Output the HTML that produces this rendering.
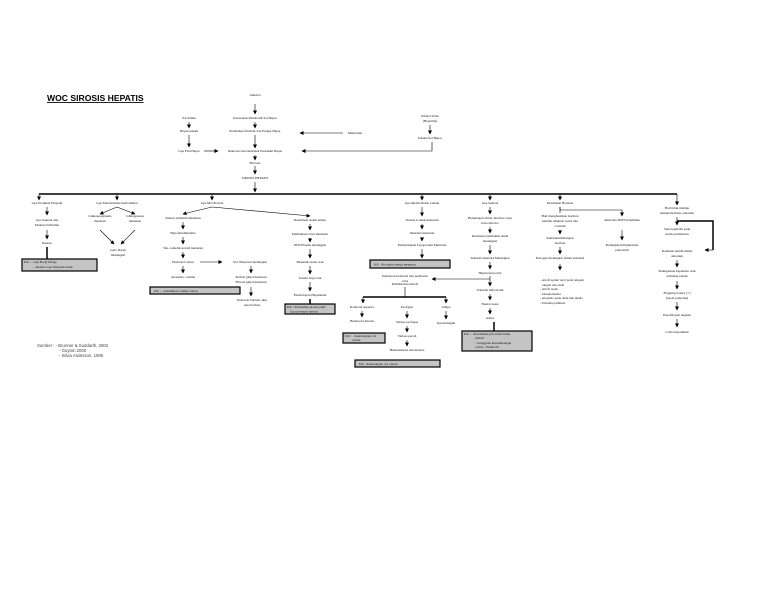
<!DOCTYPE html>
<html><head><meta charset="utf-8"><style>
html,body{margin:0;padding:0;background:#fff}
svg{display:block}
text{font-family:"Liberation Serif",serif;font-size:3.4px;fill:#111;text-anchor:middle}
.t{font-family:"Liberation Sans",sans-serif;font-size:8.6px;font-weight:bold;text-anchor:start;text-decoration:underline;fill:#000}
.s{font-family:"Liberation Sans",sans-serif;font-size:4.3px;text-anchor:start;fill:#444}
.l{text-anchor:start}
line,polyline{stroke:#000;stroke-width:0.6;fill:none}
.b{stroke-width:1.5}
rect{fill:#c4c4c4;stroke:#000;stroke-width:1.2}
</style></head><body>
<svg width="768" height="594" viewBox="0 0 768 594" xmlns="http://www.w3.org/2000/svg">
<defs><marker id="a" markerWidth="4" markerHeight="4" refX="3.5" refY="2" orient="auto" markerUnits="userSpaceOnUse"><path d="M0,0 L4,2 L0,4z" fill="#000"/></marker></defs>
<text class="t" x="47" y="101">WOC SIROSIS HEPATIS</text>

<text x="255" y="96">Alkohol</text>
<line x1="255" y1="104" x2="255" y2="114" marker-end="url(#a)"/>
<text x="255" y="119">Kerusakan Metabolik Sel Hepar</text>
<line x1="255" y1="122" x2="255" y2="128" marker-end="url(#a)"/>
<text x="255" y="132">Perubahan Struktur dan Fungsi Hepar</text>
<line x1="255" y1="135" x2="255" y2="148" marker-end="url(#a)"/>
<text x="255" y="152">Nekrosis dan Destruksi Parenkim Hepar</text>
<line x1="255" y1="155" x2="255" y2="160" marker-end="url(#a)"/>
<text x="255" y="164">Fibrosis</text>
<line x1="255" y1="166" x2="255" y2="174" marker-end="url(#a)"/>
<text x="255" y="179">SIROSIS HEPATIS</text>
<line x1="255" y1="182" x2="255" y2="192" marker-end="url(#a)"/>

<text x="189" y="119">Zat Kimia</text>
<line x1="189" y1="122" x2="189" y2="128" marker-end="url(#a)"/>
<text x="189" y="132">Hepatotoksik</text>
<line x1="189" y1="135" x2="189" y2="147" marker-end="url(#a)"/>
<text x="189" y="152">Gpa Fisd Hepar</text>
<line x1="204" y1="151" x2="218" y2="151" marker-end="url(#a)"/>
<text x="355" y="134">Malnutrisi</text>
<line x1="343" y1="133" x2="300" y2="133" marker-end="url(#a)"/>
<text x="430" y="117">Infeksi Virus</text>
<text x="430" y="122">(Hepatitis)</text>
<line x1="430" y1="125" x2="430" y2="134" marker-end="url(#a)"/>
<text x="430" y="139">Infeksi Sel Hepar</text>
<polyline points="432,142 432,151 302,151" marker-end="url(#a)"/>

<line class="b" x1="39" y1="194" x2="677" y2="194"/>
<line x1="39" y1="194" x2="39" y2="200" marker-end="url(#a)"/>
<line x1="117" y1="194" x2="117" y2="200" marker-end="url(#a)"/>
<line x1="212" y1="194" x2="212" y2="200" marker-end="url(#a)"/>
<line x1="422" y1="194" x2="422" y2="200" marker-end="url(#a)"/>
<line x1="490" y1="194" x2="490" y2="200" marker-end="url(#a)"/>
<line x1="560" y1="194" x2="560" y2="200" marker-end="url(#a)"/>
<line x1="677" y1="194" x2="677" y2="205" marker-end="url(#a)"/>

<text x="47" y="204">Gpa Produksi Empedu</text>
<text x="117" y="204">Gpa Metabolisme Karbohidrat</text>
<text x="212" y="204">Gpa Met Protein</text>
<text x="422" y="204">Gpa Metabolisme Lemak</text>
<text x="490" y="204">Gpa Sekresi</text>
<text x="560" y="204">Perubahan Hormon</text>
<text x="677" y="209">Hati tidak mampu</text>
<text x="677" y="214">mematabolisme amoniak</text>

<line x1="47" y1="207" x2="47" y2="215" marker-end="url(#a)"/>
<text x="47" y="221">Gpa Sekresi dan</text>
<text x="47" y="226">Ekskresi bilirubin</text>
<line x1="47" y1="230" x2="47" y2="239" marker-end="url(#a)"/>
<text x="47" y="244">Ikterus</text>
<line class="b" x1="47" y1="247" x2="47" y2="259"/>
<rect x="22" y="259" width="75" height="12"/>
<text class="l" x="24" y="263">KK : - Gpa Body Image</text>
<text class="l" x="34" y="268">- Resiko Gpa Integritas kulit</text>

<polyline points="117,207 100,214" marker-end="url(#a)"/>
<polyline points="117,207 135,214" marker-end="url(#a)"/>
<text x="100" y="217">Glukoneogenesis</text>
<text x="100" y="222">menurun</text>
<text x="135" y="217">Glikogenesis</text>
<text x="135" y="222">menurun</text>
<line x1="100" y1="230" x2="114" y2="244" marker-end="url(#a)"/>
<line x1="135" y1="230" x2="121" y2="244" marker-end="url(#a)"/>
<text x="118" y="251">Gula Darah</text>
<text x="118" y="256">meningkat</text>

<polyline points="212,207 183,214" marker-end="url(#a)"/>
<polyline points="212,207 310,216" marker-end="url(#a)"/>
<text x="183" y="219">Sintesa Albumin Menurun</text>
<line x1="183" y1="222" x2="183" y2="229" marker-end="url(#a)"/>
<text x="183" y="234">Hypoalbuminemia</text>
<line x1="183" y1="237" x2="183" y2="244" marker-end="url(#a)"/>
<text x="183" y="249">Tek. osmotik koloid menurun</text>
<line x1="183" y1="252" x2="183" y2="258" marker-end="url(#a)"/>
<text x="183" y="263">Ekstrasel cairan</text>
<line x1="200" y1="262" x2="222" y2="262" marker-end="url(#a)"/>
<text x="250" y="263">Vol. Ekstrasel meningkat</text>
<line x1="183" y1="266" x2="183" y2="273" marker-end="url(#a)"/>
<text x="183" y="278">Anasarka / edema</text>
<rect x="150" y="287" width="90" height="7"/>
<text class="l" x="154" y="292">KK : - Kelebihan volume cairan</text>
<line x1="251" y1="266" x2="251" y2="273" marker-end="url(#a)"/>
<text x="251" y="278">Perfusi ginjal menurun</text>
<text x="251" y="283">Filtrasi ginjal menurun</text>
<line x1="251" y1="287" x2="251" y2="296" marker-end="url(#a)"/>
<text x="252" y="301">Nekrosis Tubular akut</text>
<text x="252" y="306">renal failure</text>

<text x="310" y="221">Deaminasi Asam amino</text>
<line x1="310" y1="224" x2="310" y2="230" marker-end="url(#a)"/>
<text x="310" y="235">Pembuksan Urea menurun</text>
<line x1="310" y1="238" x2="310" y2="242" marker-end="url(#a)"/>
<text x="310" y="246">NH3 Plasma meningkat</text>
<line x1="310" y1="249" x2="310" y2="258" marker-end="url(#a)"/>
<text x="310" y="263">Mekanik sesak otak</text>
<line x1="310" y1="266" x2="310" y2="274" marker-end="url(#a)"/>
<text x="310" y="279">Toksin bagi otak</text>
<line x1="310" y1="282" x2="310" y2="291" marker-end="url(#a)"/>
<text x="310" y="296">Ensefalopati Hepatikum</text>
<line class="b" x1="310" y1="299" x2="310" y2="304"/>
<rect x="285" y="304" width="50" height="10"/>
<text class="l" x="287" y="308">KK : Perubahan proses pikir</text>
<text class="l" x="290" y="312.5">Gpa persepsi sensori</text>

<line x1="422" y1="207" x2="422" y2="216" marker-end="url(#a)"/>
<text x="422" y="221">Sintesa Lemak menurun</text>
<line x1="422" y1="224" x2="422" y2="229" marker-end="url(#a)"/>
<text x="422" y="234">Oksidasi menurun</text>
<line x1="422" y1="237" x2="422" y2="241" marker-end="url(#a)"/>
<text x="422" y="246">Pembentukan Lipoprotein Menurun</text>
<line x1="422" y1="249" x2="422" y2="258" marker-end="url(#a)"/>
<rect x="370" y="260" width="80" height="8"/>
<text class="l" x="374" y="265.5">KK : Produksi energi menurun</text>

<line x1="490" y1="207" x2="490" y2="214" marker-end="url(#a)"/>
<text x="490" y="219">Bendungan aliran darah ke vena</text>
<text x="490" y="224">kava inferior</text>
<line x1="490" y1="227" x2="490" y2="233" marker-end="url(#a)"/>
<text x="490" y="237">Resistensi pembuluh darah</text>
<text x="490" y="242">meningkat</text>
<line x1="490" y1="245" x2="490" y2="254" marker-end="url(#a)"/>
<text x="490" y="259">Tekanan sinusoid Meningkat</text>
<line x1="490" y1="262" x2="490" y2="269" marker-end="url(#a)"/>
<text x="490" y="274">Hipertensi portal</text>
<line x1="490" y1="276" x2="490" y2="286" marker-end="url(#a)"/>
<line x1="490" y1="279" x2="432" y2="279" marker-end="url(#a)"/>
<text x="405" y="277">Pelebaran kolateral dan pelebaran</text>
<text x="405" y="282">vena</text>
<text x="405" y="285">Pembuluh kolateral</text>
<text x="490" y="291">Tekanan hidrostatik</text>
<line x1="490" y1="294" x2="490" y2="300" marker-end="url(#a)"/>
<text x="490" y="305">Ekstravasasi</text>
<line x1="490" y1="308" x2="490" y2="314" marker-end="url(#a)"/>
<text x="490" y="319">Asites</text>
<line class="b" x1="494" y1="322" x2="494" y2="331"/>
<rect x="462" y="331" width="70" height="20"/>
<text class="l" x="464" y="335">KK : - Perubahan pola nafas tidak</text>
<text class="l" x="475" y="339">efektif</text>
<text class="l" x="475" y="344">- Gangguan keseimbangan</text>
<text class="l" x="475" y="348">cairan - Elektrolit</text>

<line x1="405" y1="287" x2="405" y2="297" stroke="#bbb"/>
<line class="b" x1="363" y1="297" x2="446" y2="297"/>
<line x1="363" y1="297" x2="363" y2="303" marker-end="url(#a)"/>
<line x1="446" y1="297" x2="446" y2="303" marker-end="url(#a)"/>
<text x="362" y="308">Kolateral superior</text>
<text x="407" y="308">Esofagus</text>
<text x="446" y="308">Limpa</text>
<line x1="362" y1="311" x2="362" y2="317" marker-end="url(#a)"/>
<line x1="407" y1="311" x2="407" y2="318" marker-end="url(#a)"/>
<line x1="446" y1="311" x2="446" y2="319" marker-end="url(#a)"/>
<text x="362" y="322">Hemoroid interna</text>
<text x="407" y="323">Varises esofagus</text>
<text x="446" y="324">Splenomegali</text>
<rect x="343" y="333" width="42" height="10"/>
<text class="l" x="345" y="337">KK : - Kekurangan vol</text>
<text class="l" x="352" y="341">cairan</text>
<line x1="407" y1="326" x2="407" y2="332" marker-end="url(#a)"/>
<text x="407" y="337">Varises pecah</text>
<line x1="407" y1="340" x2="407" y2="346" marker-end="url(#a)"/>
<text x="407" y="351">Hematemesis dan melena</text>
<rect x="355" y="360" width="85" height="7"/>
<text class="l" x="359" y="365">KK : Kekurangan vol cairan</text>

<polyline points="560,207 560,210 622,210 622,216" marker-end="url(#a)"/>
<line x1="560" y1="207" x2="560" y2="213"/>
<text x="560" y="217">Hati menghasilkan hormon</text>
<text x="560" y="222">ketidak adekuat: testis dan</text>
<text x="560" y="227">ovarium</text>
<line x1="560" y1="230" x2="560" y2="234" marker-end="url(#a)"/>
<text x="560" y="239">Ketidakseimbangan</text>
<text x="560" y="244">hormon</text>
<line x1="560" y1="247" x2="560" y2="254" marker-end="url(#a)"/>
<text x="560" y="259">Estrogen meningkat dalam sirkulasi</text>
<line x1="560" y1="264" x2="560" y2="270" marker-end="url(#a)"/>
<text class="l" x="540" y="281">- Atrofi spider nevi pada telapak</text>
<text class="l" x="542" y="286">tangan dan dada</text>
<text class="l" x="540" y="290">- Atrofi testis</text>
<text class="l" x="540" y="295">- Ginekomastia</text>
<text class="l" x="540" y="299">- Alopesia pada dada dan aksila</text>
<text class="l" x="540" y="304">- Eritema palmaris</text>
<text x="622" y="221">Aktivitas MSH berlebihan</text>
<line x1="622" y1="230" x2="622" y2="240" marker-end="url(#a)"/>
<text x="622" y="246">Peningkatan Pigmentasi</text>
<text x="622" y="251">pada kulit</text>

<line x1="677" y1="217" x2="677" y2="225" marker-end="url(#a)"/>
<polyline class="b" points="677,221 713,221 713,250" />
<line x1="713" y1="250" x2="705" y2="250" marker-end="url(#a)"/>
<text x="677" y="230">Vena kapitalis pada</text>
<text x="677" y="235">sudut pendekatan</text>
<text x="677" y="252">Kelainan metabolisme</text>
<text x="677" y="257">amoniak</text>
<line x1="677" y1="260" x2="677" y2="267" marker-end="url(#a)"/>
<text x="677" y="272">Peningkatan kepekaan otak</text>
<text x="677" y="277">terhadap toksin</text>
<line x1="677" y1="281" x2="677" y2="289" marker-end="url(#a)"/>
<text x="677" y="294">Flapping tremor (+)</text>
<text x="677" y="299">(tanda prekoma)</text>
<line x1="677" y1="302" x2="677" y2="310" marker-end="url(#a)"/>
<text x="677" y="316">Ensefalopati hepatik</text>
<line x1="677" y1="319" x2="677" y2="327" marker-end="url(#a)"/>
<text x="677" y="333">Coma hepatikum</text>

<text class="s" x="37" y="347">Sumber :  - Brunner &amp; Suddarth, 2002</text>
<text class="s" x="59" y="352">- Guyton 2000</text>
<text class="s" x="59" y="357">- Silvia Anderson, 1995</text>
</svg>
</body></html>
